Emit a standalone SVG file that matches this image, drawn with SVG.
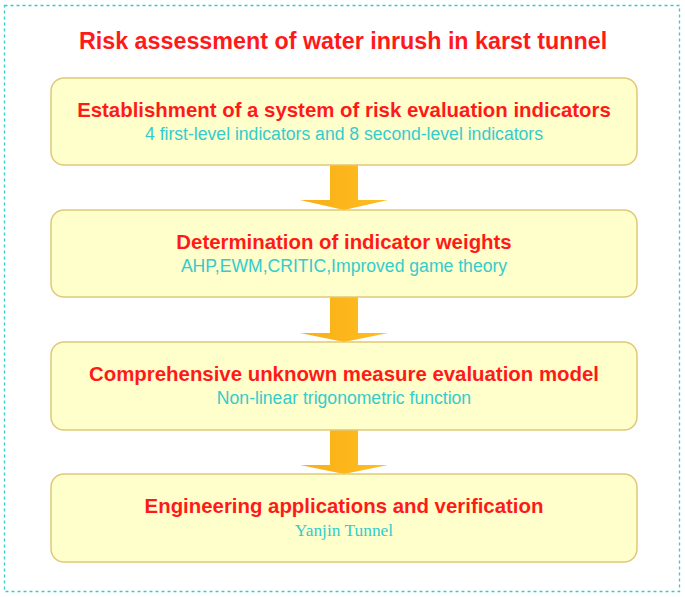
<svg xmlns="http://www.w3.org/2000/svg" width="685" height="597" viewBox="0 0 685 597">
<style>
.box{fill:#FFFFCC;stroke:#E1C877;stroke-width:1.5}
.t{font-family:"Liberation Sans",Arial,sans-serif;font-weight:bold;fill:#FF1A1A;text-anchor:middle;font-size:20.4px}
.s{font-family:"Liberation Sans",Arial,sans-serif;fill:#33CCCC;text-anchor:middle;font-size:17.6px}
.arr{fill:url(#ag)}
</style>
<defs>
<linearGradient id="ag" x1="0" y1="0" x2="1" y2="0">
<stop offset="0" stop-color="#F9AE18"/>
<stop offset="1" stop-color="#FFBE1F"/>
</linearGradient>
</defs>
<rect width="685" height="597" fill="#ffffff"/>
<rect x="4.5" y="5.5" width="675" height="586" fill="none" stroke="#33CCCC" stroke-width="1.3" stroke-dasharray="3 3"/>
<text x="343" y="49" font-family="'Liberation Sans',Arial,sans-serif" font-weight="bold" font-size="23.3" fill="#FF1A1A" text-anchor="middle">Risk assessment of water inrush in karst tunnel</text>
<g id="connectors">
<path class="arr" d="M330 165 H358 V200 H388 L344 210 L300 200 H330 Z"/>
<path class="arr" d="M330 297 H358 V333 H388 L344 342 L300 333 H330 Z"/>
<path class="arr" d="M330 430 H358 V465 H388 L344 474 L300 465 H330 Z"/>
</g>
<g id="node1">
<rect class="box" x="51" y="78" width="586" height="87" rx="13"/>
<text class="t" x="344" y="117">Establishment of a system of risk evaluation indicators</text>
<text class="s" x="344" y="140">4 first-level indicators and 8 second-level indicators</text>
</g>
<g id="node2">
<rect class="box" x="51" y="210" width="586" height="87" rx="13"/>
<text class="t" x="344" y="249">Determination of indicator weights</text>
<text class="s" x="344" y="272">AHP,EWM,CRITIC,Improved game theory</text>
</g>
<g id="node3">
<rect class="box" x="51" y="342" width="586" height="88" rx="13"/>
<text class="t" x="344" y="381">Comprehensive unknown measure evaluation model</text>
<text class="s" x="344" y="404">Non-linear trigonometric function</text>
</g>
<g id="node4">
<rect class="box" x="51" y="474" width="586" height="88" rx="13"/>
<text class="t" x="344" y="513">Engineering applications and verification</text>
<text x="344" y="536" font-family="'Liberation Serif','Times New Roman',serif" font-size="17.4" fill="#33CCCC" text-anchor="middle">Yanjin Tunnel</text>
</g>
</svg>
